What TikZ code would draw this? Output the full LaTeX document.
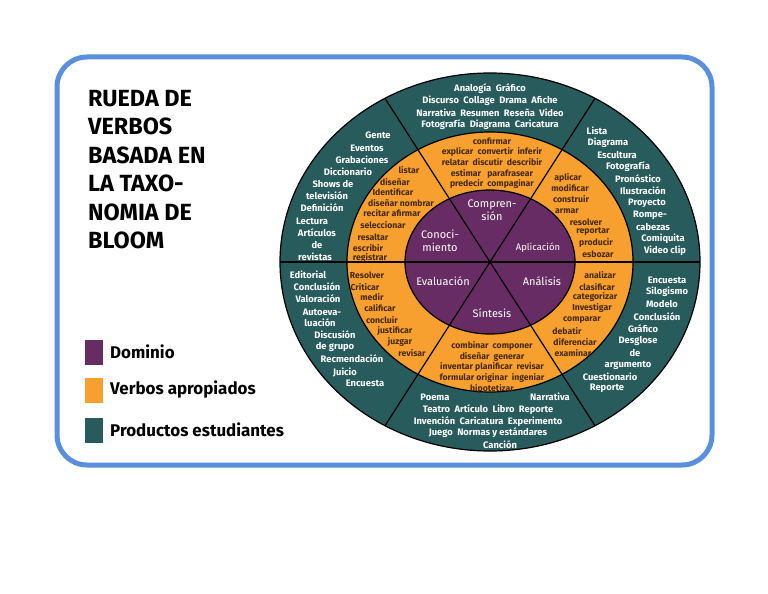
\documentclass[tikz,border=0pt]{standalone}
\usepackage{fontspec}
\setmainfont{Fira Sans}
\usetikzlibrary{calc}
\definecolor{teal1}{RGB}{40,92,92}
\definecolor{orng}{RGB}{247,160,48}
\definecolor{purp}{RGB}{104,44,100}
\definecolor{frameblue}{RGB}{90,143,222}
\definecolor{brn}{RGB}{70,40,10}
\tikzset{
 tt/.style={text=white,font=\fontsize{9.4}{10}\selectfont\bfseries,inner sep=0pt},
 ot/.style={text=brn,font=\fontsize{8.7}{9}\selectfont\bfseries,inner sep=0pt},
 pt/.style={text=white,font=\fontsize{11}{12.5}\selectfont,inner sep=0pt,align=center},
 ring/.style={draw=black,line width=1.2bp},
 sep/.style={draw=black,line width=1.2bp},
 legbox/.style={minimum width=18bp,minimum height=25bp,inner sep=0pt},
 legtext/.style={anchor=west,font=\fontsize{17}{18}\selectfont\bfseries,inner sep=0pt}
}
\begin{document}
\begin{tikzpicture}[x=1bp,y=-1bp]
\useasboundingbox[fill=white] (0,0) rectangle (768,594);
\draw[frameblue,line width=5bp,rounded corners=30bp] (57,57) rectangle (712,465);
\coordinate (C) at (490,262);
\fill[teal1,ring] (C) ellipse [x radius=210bp,y radius=189bp];
\fill[orng,ring] (C) ellipse [x radius=143bp,y radius=130bp];
\fill[purp,ring] (C) ellipse [x radius=85bp,y radius=72bp];
\foreach \a in {0,60,120,180,240,300}
  \draw[sep] (C) -- ++(\a:210bp and 189bp);
% title
\node[anchor=north west,align=left,inner sep=0pt,font=\fontsize{23.5}{28.6}\selectfont\bfseries] (title) at (88,90)
 {RUEDA DE\\VERBOS\\BASADA EN\\LA TAXO-\\NOMIA DE\\BLOOM};
% legend
\node[legbox,fill=purp] (l1) at (94,352) {};
\node[legbox,fill=orng] (l2) at (94,390) {};
\node[legbox,fill=teal1] (l3) at (94,430) {};
\node[legtext] (t1) at (110,352) {Dominio};
\node[legtext] (t2) at (110,390) {Verbos apropiados};
\node[legtext] (t3) at (110,430) {Productos estudiantes};
% purple
\node[pt] (p1) at (492,210) {Compren-\\sión};
\node[pt] (p2) at (440,241) {Conoci-\\miento};
\node[pt,font=\fontsize{9.5}{10}\selectfont] (p3) at (538,248) {Aplicación};
\node[pt] (p4) at (443,281) {Evaluación};
\node[pt] (p5) at (542,281) {Análisis};
\node[pt] (p6) at (492,313) {Síntesis};
% teal texts
\foreach \x/\y/\t [count=\i] in {
 490/89/{Analogía\ \ Gráfico},490/101/{Discurso\ \ Collage\ \ Drama\ \ Afiche},
 490/113/{Narrativa\ \ Resumen\ \ Reseña\ \ Video},490/125/{Fotografía\ \ Diagrama\ \ Caricatura},
 378/135/Gente,367/148/Eventos,362/160/Grabaciones,348/172/Diccionario,333/184/Shows de,
 327/196/televisión,322/208/Definición,312/221/Lectura,317/233/Artículos,317/245/de,315/257/revistas,
 597/131/Lista,608/143/Diagrama,617/155/Escultura,628/167/Fotografía,638/179/Pronóstico,
 643/191/Ilustración,647/203/Proyecto,650/215/Rompe-,653/227/cabezas,663/239/Comiquita,665/251/Video clip,
 308/275/Editorial,317/287/Conclusión,318/299/Valoración,322/312/Autoeva-,320/323/luación,
 335/335/Discusión,335/347/de grupo,352/359/Recmendación,345/372/Juicio,365/383/Encuesta,
 667/280/Encuesta,667/292/Silogismo,662/304/Modelo,657/317/Conclusión,643/329/Gráfico,
 638/341/Desglose,635/353/de,628/365/argumento,610/377/Cuestionario,607/388/Reporte,
 435/397/Poema,550/397/Narrativa,488/410/{Teatro\ \ Artículo\ \ Libro\ \ Reporte},
 488/422/{Invención\ \ Caricatura\ \ Experimento},488/433/{Juego\ \ Normas\ y estándares},500/445/Canción}
 \node[tt] (tt\i) at (\x,\y) {\t};
% orange texts
\foreach \x/\y/\t [count=\i] in {
 492/141/confirmar,492/152/{explicar\ \ convertir\ \ inferir},492/162/{relatar\ \ discutir\ \ describir},
 492/174/{estimar\ \ \ parafrasear},492/184/{predecir\ \ compaginar},
 409/170/listar,395/182/diseñar,393/192/Identificar,401/203/{diseñar nombrar},392/213/{recitar afirmar},
 383/225/seleccionar,373/237/resaltar,368/248/escribir,370/258/registrar,
 568/178/aplicar,570/188/modificar,571/199/construir,567/211/armar,586/222/resolver,593/232/reportar,
 596/243/producir,598/254/esbozar,
 367/275/Resolver,365/287/Criticar,372/297/medir,380/308/calificar,382/320/concluir,395/331/justificar,
 400/342/juzgar,412/353/revisar,
 600/275/analizar,597/287/clasificar,595/297/categorizar,592/308/Investigar,582/320/comparar,
 567/331/debatir,575/342/diferenciar,573/353/examinar,
 492/346/{combinar\ \ componer},492/357/{diseñar\ \ generar},492/367/{inventar planificar\ \ revisar},
 492/378/{formular originar\ \ ingeniar},492/389/hipotetizar}
 \node[ot] (ot\i) at (\x,\y) {\t};
\end{tikzpicture}
\end{document}
